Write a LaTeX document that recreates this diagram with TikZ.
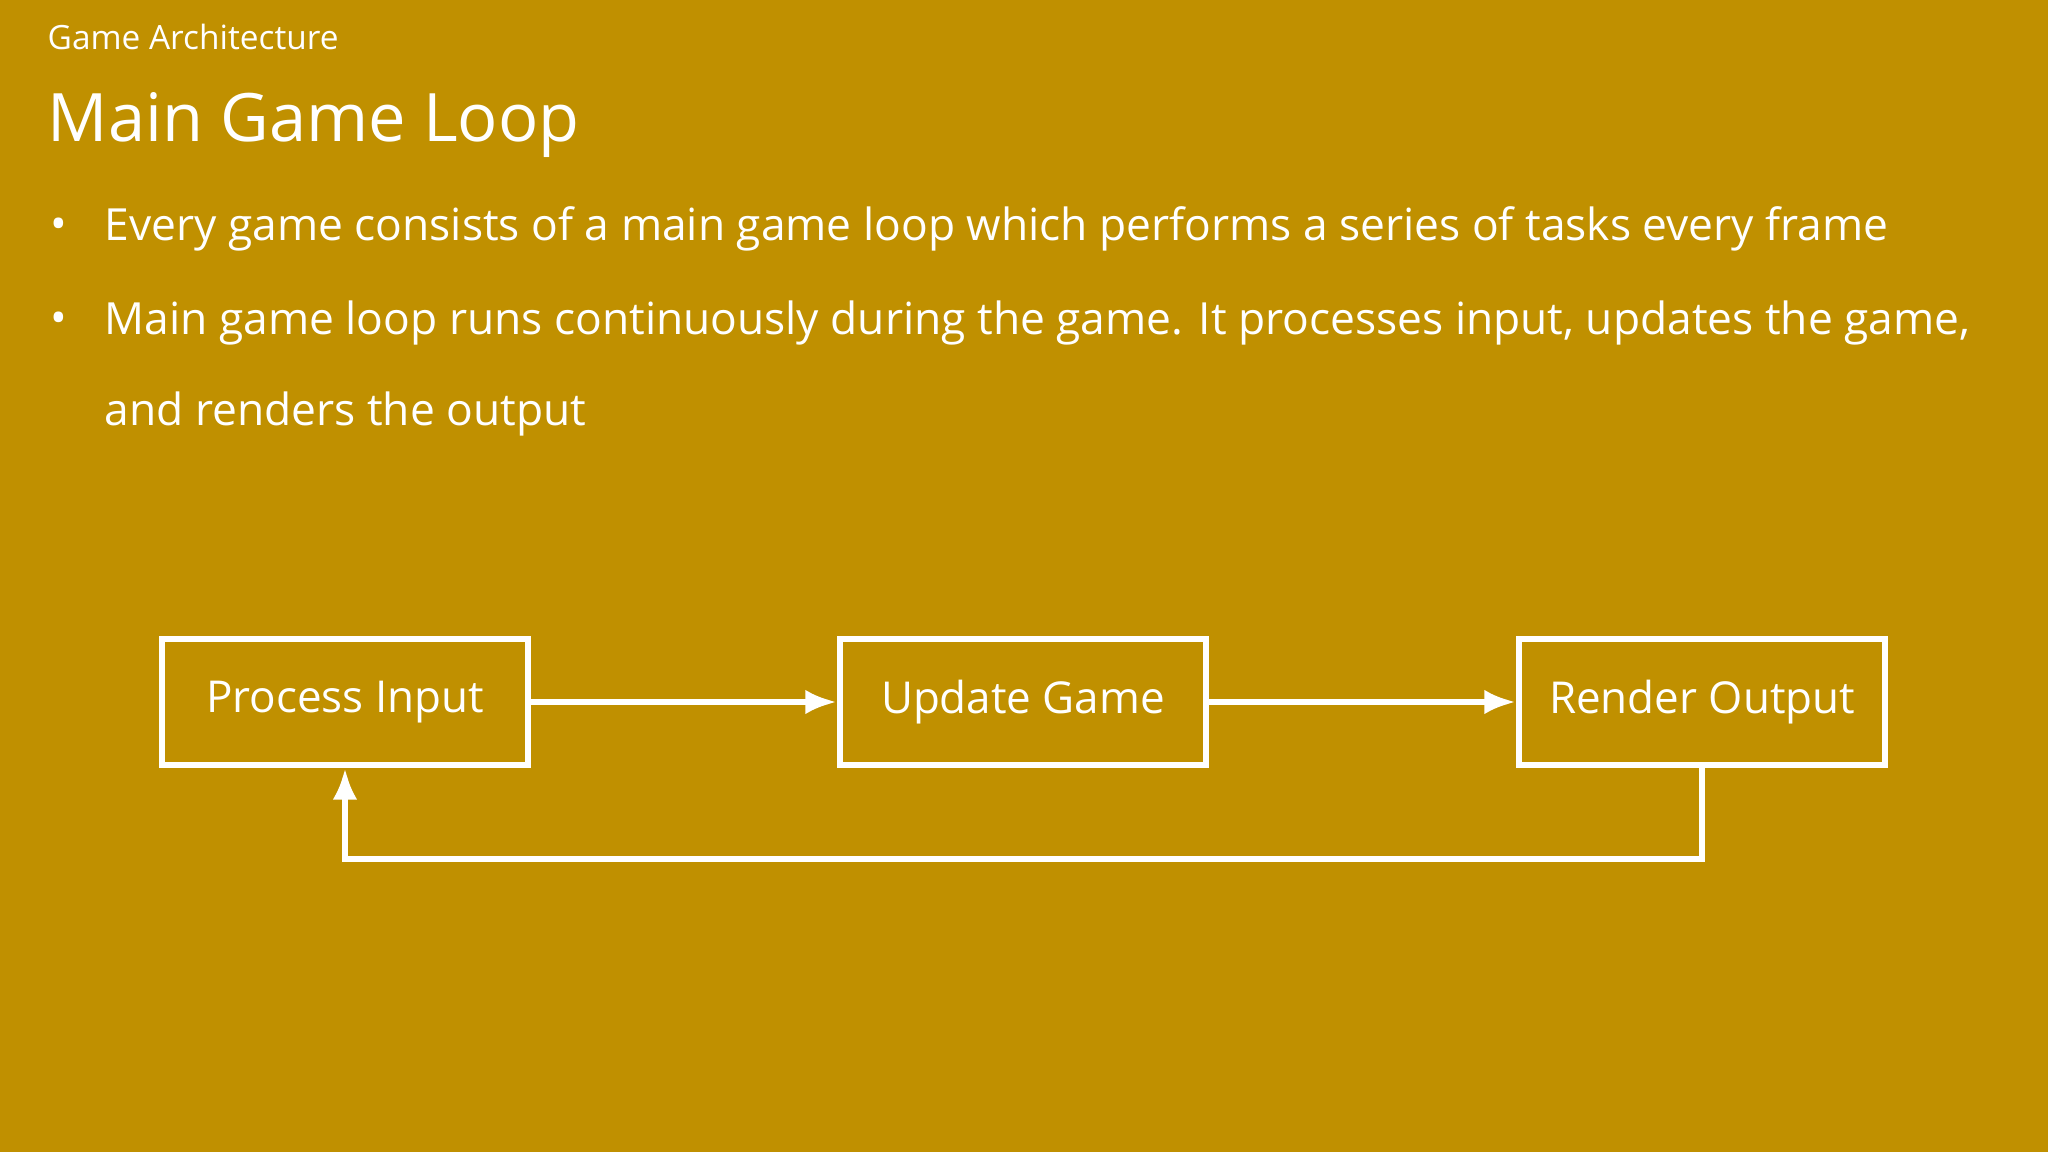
\documentclass[tikz,border=0pt]{standalone}
\usepackage{fontspec}
\setmainfont{Open Sans}
\usetikzlibrary{positioning,arrows.meta}
\definecolor{slideBg}{RGB}{192,144,0}
\colorlet{penColor}{white}
\tikzset{>={Latex[length=9pt,width=7pt]}}
\tikzset{
  stagebox/.style={draw=penColor,line width=1.7pt,minimum width=3.66cm,minimum height=1.26cm,
    text=penColor,font=\fontsize{12.5}{15}\selectfont,inner sep=0pt},
  slidetext/.style={text=penColor,anchor=west,inner sep=0pt},
}
\begin{document}
\begin{tikzpicture}[x=0.01cm,y=-0.01cm]
\fill[slideBg] (0,0) rectangle (2048,1152);
\useasboundingbox (0,0) rectangle (2048,1152);

\node[slidetext,font=\fontsize{9.5}{11}\selectfont] (header) at (47,37) {Game Architecture};
\node[slidetext,font=\fontsize{19}{23}\selectfont] (title) at (47,125) {Main Game Loop};
\node[slidetext,font=\fontsize{12.6}{15}\selectfont] (dotA) at (50,229) {•};
\node[slidetext,font=\fontsize{12.6}{15}\selectfont] (lineA) at (104,229) {Every game consists of a main game loop which performs a series of tasks every frame};
\node[slidetext,font=\fontsize{12.6}{15}\selectfont] (dotB) at (50,323) {•};
\node[slidetext,font=\fontsize{12.6}{15}\selectfont] (lineB) at (104,323) {Main game loop runs continuously during the game. It processes input, updates the game,};
\node[slidetext,font=\fontsize{12.6}{15}\selectfont] (lineC) at (104,414) {and renders the output};

\node[stagebox] (input) at (345,702) {Process Input};
\node[stagebox] (update) at (1023,702) {Update Game};
\node[stagebox] (render) at (1702,702) {Render Output};

\draw[->,penColor,line width=1.7pt] (input) -- (update);
\draw[->,penColor,line width=1.7pt] (update) -- (render);
\coordinate (loopR) at (1702,859);
\coordinate (loopL) at (345,859);
\draw[->,penColor,line width=1.7pt] (render.south) -- (loopR) -- (loopL) -- (input.south);
\end{tikzpicture}
\end{document}
